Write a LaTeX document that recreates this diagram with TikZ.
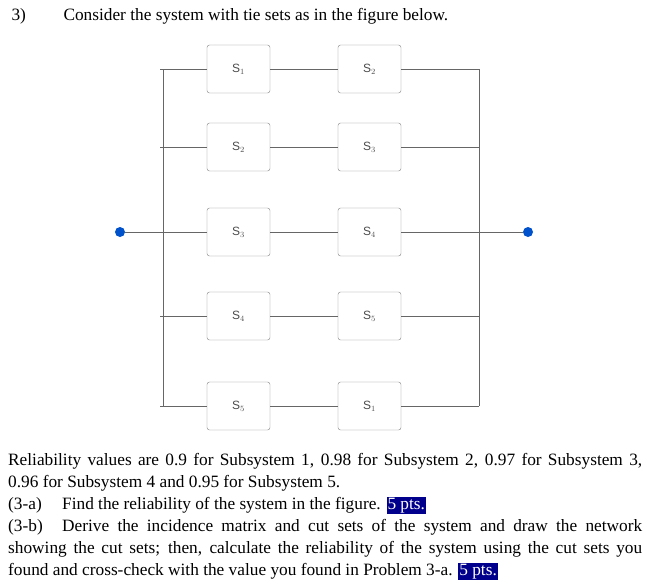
\documentclass[tikz,border=0pt]{standalone}
\usepackage{fontspec}
\setmainfont{Liberation Serif}
\newfontfamily\boxfont{Liberation Sans}
\begin{document}
\begin{tikzpicture}[x=1pt,y=-1pt,
  blk/.style={draw=black!50,rounded corners=2.5pt,minimum width=63pt,minimum height=48pt,inner sep=0pt,font=\boxfont\fontsize{12}{14}\selectfont,text=black!70,fill=white},
  wire/.style={draw=black!60,line width=0.8pt},
  dot/.style={circle,fill=blue!60!cyan!80!black,inner sep=0pt,minimum size=10pt}]
\useasboundingbox (0,0) rectangle (650,584);
\node[anchor=base west,font=\fontsize{17.3}{20}\selectfont] (num) at (8,20) {3)};
\node[anchor=base west,font=\fontsize{17.3}{20}\selectfont] (title) at (60,20) {Consider the system with tie sets as in the figure below.};
\foreach \r/\y/\a/\b in {1/69/1/2,2/147/2/3,3/232/3/4,4/316/4/5,5/406/5/1}{
  \coordinate (L\r) at (160,\y);
  \coordinate (R\r) at (479,\y);
  \node[blk] (A\r) at (238.5,\y) {S$_{\a}$};
  \node[blk] (B\r) at (369.5,\y) {S$_{\b}$};
  \draw[wire] (L\r) -- (A\r.west) (A\r.east) -- (B\r.west) (B\r.east) -- (R\r);
}
\coordinate (LT) at (163,69); \coordinate (LB) at (163,406);
\draw[wire] (LT) -- (LB);
\draw[wire] (R1) -- (R5);
\node[dot] (in) at (120,232) {};
\node[dot] (out) at (528,232) {};
\draw[wire] (in) -- (L3);
\draw[wire] (R3) -- (out);
\newcommand\pts{\colorbox{blue!55!black}{\textcolor{white}{5 pts.}}}
\node[anchor=north west,inner sep=0pt,text width=634pt,align=justify,font=\fontsize{17.3}{22}\selectfont] (para) at (8,453) {%
\setlength{\fboxsep}{1pt}%
Reliability values are 0.9 for Subsystem 1, 0.98 for Subsystem 2, 0.97 for Subsystem 3,\linebreak
0.96 for Subsystem 4 and 0.95 for Subsystem 5.\\
\makebox[54pt][l]{(3-a)}Find the reliability of the system in the figure. \pts\\
\makebox[54pt][l]{(3-b)}Derive the incidence matrix and cut sets of the system and draw the network\linebreak
showing the cut sets; then, calculate the reliability of the system using the cut sets you\linebreak
found and cross-check with the value you found in Problem 3-a. \pts};
\end{tikzpicture}
\end{document}
